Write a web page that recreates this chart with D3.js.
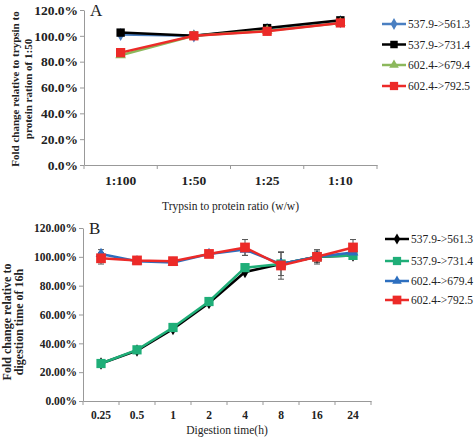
<!DOCTYPE html>
<html>
<head>
<meta charset="utf-8">
<script src="https://cdn.jsdelivr.net/npm/d3@7"></script>
<style>
  body { margin: 0; background: #fff; }
  svg { font-family: "Liberation Serif", "Times New Roman", serif; }
</style>
</head>
<body>
<svg id="chart" width="474" height="440"></svg>
<script>
// Panel A: trypsin to protein ratio
const catsA = ['1:100', '1:50', '1:25', '1:10'];
const a5379_5613 = [101, 100, 105, 111];
const a5379_7314 = [102.5, 100, 106, 112];
const a6024_6794 = [85, 100, 104, 110];
const a6024_7925 = [87, 100, 103.5, 110];

// Panel B: digestion time
const catsB = ['0.25', '0.5', '1', '2', '4', '8', '16', '24'];
const b5379_5613 = [26, 35, 50, 68, 89.5, 95, 100, 101];
const b5379_7314 = [26, 35.5, 51, 69, 92.5, 95, 100, 101];
const b6024_6794 = [102, 97, 96, 102, 105, 95, 100, 103];
const b6024_7925 = [99, 97.5, 97, 102, 106.5, 94, 100, 106.5];
const errB7925 = [4, 2, 2, 2, 5.5, 9.5, 5, 5.5];
const errB6794 = [3, 2, 2, 2, 4, 8, 4, 4];

const yTicks = [0, 20, 40, 60, 80, 100, 120];

const svg = d3.select('#chart');

function drawPanel(cfg) {
    const x = d3.scaleBand().domain(cfg.cats).range([cfg.left, cfg.right]);
    const y = d3.scaleLinear().domain([0, 120]).range([cfg.bottom, cfg.top]);
    const g = svg.append('g');

    // y axis
    const yAxis = g.append('g')
        .attr('transform', `translate(${cfg.left},0)`)
        .call(d3.axisLeft(y).tickValues(yTicks).tickSizeInner(4).tickSizeOuter(0)
            .tickFormat(d => d.toFixed(cfg.decimals) + '%'));
    yAxis.select('.domain').attr('stroke', '#999');
    yAxis.selectAll('.tick line').attr('stroke', '#999');
    yAxis.selectAll('.tick text')
        .attr('x', -6)
        .style('font-family', '"Liberation Serif", serif')
        .style('font-size', cfg.tickSize + 'px')
        .style('font-weight', 'bold')
        .attr('fill', '#222');

    // x axis
    const xAxis = g.append('g')
        .attr('transform', `translate(0,${cfg.bottom})`)
        .call(d3.axisBottom(x).tickSize(0));
    xAxis.select('.domain').attr('stroke', '#999');
    xAxis.selectAll('.tick text')
        .attr('dy', 0)
        .attr('y', cfg.catDy)
        .style('font-family', '"Liberation Serif", serif')
        .style('font-size', cfg.catSize + 'px')
        .style('font-weight', 'bold')
        .attr('fill', '#222');

    // band boundary ticks
    const edges = cfg.cats.map(c => x(c)).concat([x.range()[1]]);
    g.selectAll('.edge').data(edges).enter().append('line')
        .attr('x1', d => d).attr('x2', d => d)
        .attr('y1', cfg.bottom).attr('y2', cfg.bottom + 4)
        .attr('stroke', '#999');

    // error bars
    cfg.series.forEach(s => {
        if (!s.err) return;
        const eb = g.append('g');
        s.values.forEach((v, i) => {
            const cx = x(cfg.cats[i]) + x.bandwidth() / 2;
            eb.append('line')
                .attr('x1', cx).attr('x2', cx)
                .attr('y1', y(v - s.err[i])).attr('y2', y(v + s.err[i]))
                .attr('stroke', '#555').attr('stroke-width', 1);
            [v - s.err[i], v + s.err[i]].forEach(e => {
                eb.append('line')
                    .attr('x1', cx - 3).attr('x2', cx + 3)
                    .attr('y1', y(e)).attr('y2', y(e))
                    .attr('stroke', '#555').attr('stroke-width', 1);
            });
        });
    });

    // lines and markers
    const line = d3.line()
        .x((d, i) => x(cfg.cats[i]) + x.bandwidth() / 2)
        .y(d => y(d));
    cfg.series.forEach(s => {
        g.append('path')
            .datum(s.values)
            .attr('d', line)
            .attr('fill', 'none')
            .attr('stroke', s.color)
            .attr('stroke-width', 2.5);
        g.selectAll(null).data(s.values).enter().append('path')
            .attr('transform', (d, i) => `translate(${x(cfg.cats[i]) + x.bandwidth() / 2},${y(d)})`)
            .attr('d', d3.symbol().type(s.symbol).size(s.size))
            .attr('fill', s.color);
    });

    // panel letter
    g.append('text')
        .attr('x', cfg.left + 6).attr('y', cfg.top + 6)
        .style('font-size', '17px')
        .attr('fill', '#222')
        .text(cfg.letter);

    // y title
    const yt = g.append('text')
        .attr('transform', `translate(0,${cfg.yTitleY}) rotate(-90)`)
        .attr('text-anchor', 'middle')
        .style('font-size', cfg.yTitleSize + 'px')
        .style('font-weight', 'bold')
        .attr('fill', '#222');
    cfg.yTitle.forEach((t, i) => {
        yt.append('tspan').attr('x', 0).attr('y', cfg.yTitleX[i]).text(t);
    });

    // x title
    g.append('text')
        .attr('x', (cfg.left + cfg.right) / 2)
        .attr('y', cfg.xTitleY)
        .attr('text-anchor', 'middle')
        .style('font-size', '11.5px')
        .attr('fill', '#222')
        .text(cfg.xTitle);

    // legend
    const lg = g.append('g');
    cfg.series.forEach((s, i) => {
        const ly = cfg.legendY[i];
        lg.append('line')
            .attr('x1', cfg.legendX).attr('x2', cfg.legendX + 24)
            .attr('y1', ly).attr('y2', ly)
            .attr('stroke', s.color).attr('stroke-width', 2.5);
        lg.append('path')
            .attr('transform', `translate(${cfg.legendX + 12},${ly})`)
            .attr('d', d3.symbol().type(s.symbol).size(s.size * 0.8))
            .attr('fill', s.color);
        lg.append('text')
            .attr('x', cfg.legendX + 26).attr('y', ly + 4)
            .style('font-size', '11.5px')
            .attr('fill', '#222')
            .text(s.name);
    });
}

drawPanel({
    cats: catsA, left: 84, right: 377, top: 10, bottom: 165,
    decimals: 1, tickSize: 13.5, catSize: 13.5, catDy: 20,
    letter: 'A',
    yTitle: ['Fold change relative  to trypsin to', 'protein ration of 1:50'],
    yTitleX: [19, 32], yTitleY: 89, yTitleSize: 11,
    xTitle: 'Trypsin to protein ratio (w/w)', xTitleY: 210,
    legendX: 382, legendY: [24, 44.5, 65, 86],
    series: [
        { name: '537.9->561.3', values: a5379_5613, color: '#4a7fc1', symbol: d3.symbolDiamond, size: 50 },
        { name: '537.9->731.4', values: a5379_7314, color: '#000000', symbol: d3.symbolSquare, size: 70 },
        { name: '602.4->679.4', values: a6024_6794, color: '#8cb85c', symbol: d3.symbolTriangle, size: 50 },
        { name: '602.4->792.5', values: a6024_7925, color: '#ec2a28', symbol: d3.symbolSquare, size: 85 }
    ]
});

drawPanel({
    cats: catsB, left: 83, right: 371, top: 228, bottom: 401,
    decimals: 2, tickSize: 11.5, catSize: 11.5, catDy: 18,
    letter: 'B',
    yTitle: ['Fold change relative to', 'digestion time of 16h'],
    yTitleX: [11, 23], yTitleY: 322, yTitleSize: 12,
    xTitle: 'Digestion time(h)', xTitleY: 434,
    legendX: 385, legendY: [239, 261, 281, 300],
    series: [
        { name: '537.9->561.3', values: b5379_5613, color: '#000000', symbol: d3.symbolDiamond, size: 45 },
        { name: '537.9->731.4', values: b5379_7314, color: '#1fae78', symbol: d3.symbolSquare, size: 85 },
        { name: '602.4->679.4', values: b6024_6794, color: '#2d6fbf', symbol: d3.symbolTriangle, size: 50, err: errB6794 },
        { name: '602.4->792.5', values: b6024_7925, color: '#ec2a28', symbol: d3.symbolSquare, size: 95, err: errB7925 }
    ]
});
</script>
</body>
</html>
